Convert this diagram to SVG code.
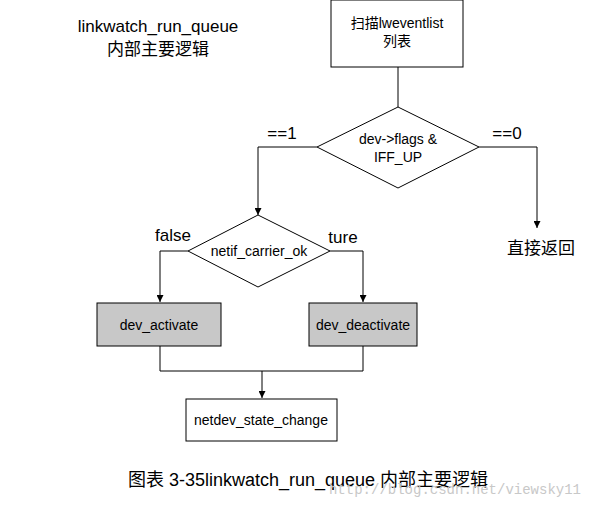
<svg xmlns="http://www.w3.org/2000/svg" width="616" height="508" viewBox="0 0 616 508">
<style>
text{font-family:"Liberation Sans","Noto Sans CJK SC",sans-serif;fill:#000}
.s{font-size:14px}.l{font-size:17px}
.n{fill:#fff;stroke:#000;stroke-width:1}
.g{fill:#c8c8c8;stroke:#000;stroke-width:1}
.c{fill:none;stroke:#000;stroke-width:1}
</style>
<defs><marker id="a" viewBox="0 0 10 10" refX="10" refY="5" markerWidth="7" markerHeight="7" orient="auto"><path d="M0,0L10,5L0,10z" fill="#000"/></marker></defs>
<rect width="616" height="508" fill="#fff"/>
<text class="l" x="158" y="32" text-anchor="middle">linkwatch_run_queue</text>
<text class="l" x="158" y="55" text-anchor="middle">内部主要逻辑</text>
<g id="connectors">
<path class="c" d="M398,67V107"/>
<path class="c" d="M317,147H258V215" marker-end="url(#a)"/>
<path class="c" d="M479,147H537V228" marker-end="url(#a)"/>
<path class="c" d="M188,251H160V302" marker-end="url(#a)"/>
<path class="c" d="M330,251H363V302" marker-end="url(#a)"/>
<path class="c" d="M160,346V371H363V346"/>
<path class="c" d="M262,371V398" marker-end="url(#a)"/>
<text class="l" x="282" y="139" text-anchor="middle">==1</text>
<text class="l" x="507" y="139" text-anchor="middle">==0</text>
<text class="l" x="173" y="241" text-anchor="middle">false</text>
<text class="l" x="343" y="243" text-anchor="middle">ture</text>
</g>
<g id="scan"><rect class="n" x="331" y="0" width="132" height="67"/><text class="s" x="397" y="28" text-anchor="middle">扫描lweventlist</text><text class="s" x="397" y="46" text-anchor="middle">列表</text></g>
<g id="flags"><path class="n" d="M398,107L479,147L398,188L317,147z"/><text class="s" x="398" y="144" text-anchor="middle">dev-&gt;flags &amp;</text><text class="s" x="398" y="162" text-anchor="middle">IFF_UP</text></g>
<g id="ret"><text class="l" x="541" y="254" text-anchor="middle">直接返回</text></g>
<g id="carrier"><path class="n" d="M258,215L330,251L258,287L188,251z"/><text class="s" x="259" y="256" text-anchor="middle">netif_carrier_ok</text></g>
<g id="act"><rect class="g" x="97" y="303" width="124" height="43"/><text class="s" x="159" y="330" text-anchor="middle">dev_activate</text></g>
<g id="deact"><rect class="g" x="309" y="303" width="108" height="43"/><text class="s" x="363" y="330" text-anchor="middle">dev_deactivate</text></g>
<g id="change"><rect class="n" x="186" y="399" width="151" height="42"/><text class="s" x="261" y="425" text-anchor="middle">netdev_state_change</text></g>
<text x="308" y="486" text-anchor="middle" style="font-size:18px">图表 3-35linkwatch_run_queue 内部主要逻辑</text>
<text x="455" y="494" text-anchor="middle" style="font-size:14px;fill:#c8c8c8;font-family:'Liberation Mono',monospace">http://blog.csdn.net/viewsky11</text>
</svg>
